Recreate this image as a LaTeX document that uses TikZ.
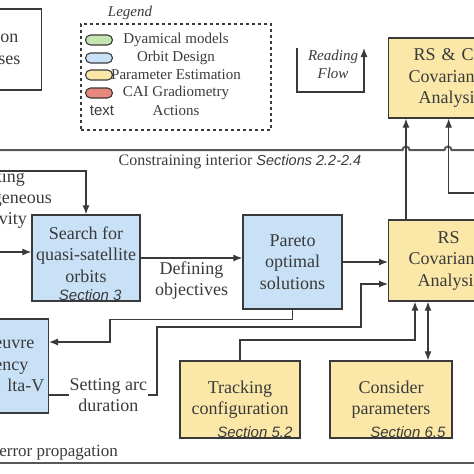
\documentclass[tikz,border=0pt]{standalone}
\usepackage{fontspec}
\setmainfont{Liberation Serif}
\setsansfont{Liberation Sans}
\usetikzlibrary{arrows.meta,positioning}
\definecolor{ink}{HTML}{3A3A3A}
\definecolor{bluebox}{HTML}{C8E1F6}
\definecolor{yellowbox}{HTML}{FBE8A8}
\definecolor{greenbox}{HTML}{C5E5B1}
\definecolor{redbox}{HTML}{E8877B}

\begin{document}
\begin{tikzpicture}[x=1pt,y=-1pt,>={Latex[length=9pt,width=7pt]},
  box/.style={draw=ink,line width=1.3pt,align=center,inner sep=0pt,text=ink,
    font=\fontsize{18}{21.5}\selectfont},
  txt/.style={text=ink,inner sep=0pt,font=\fontsize{18}{21}\selectfont},
  flow/.style={->,draw=ink,line width=1.2pt},
  sect/.style={text=ink,inner sep=1pt,font=\sffamily\itshape\fontsize{15}{15}\selectfont},
  pill/.style={draw=ink,line width=1.1pt,rounded corners=5pt,minimum width=27pt,minimum height=10pt},
  key/.style={text=ink,inner sep=0pt,font=\fontsize{15}{17.5}\selectfont},
  sep/.style={draw=ink!85,line width=2pt}]
  \useasboundingbox (0,0) rectangle (474,474);
  \clip (0,0) rectangle (474,474);

  % boxes cut by the frame
  \node[box,anchor=east,minimum height=81pt,text width=80pt,align=right,inner xsep=21pt] (phases) at (42,49.5) {on\kern2pt\\ses};
  \node[box,fill=bluebox,anchor=east,minimum height=94pt,text width=100pt,align=right,inner xsep=4pt] (mano) at (49,366) {euvre\kern10pt\\ency\kern16pt\\lta-V};
  \node[box,fill=yellowbox,anchor=west,minimum height=80pt,text width=80pt,align=left,inner xsep=20pt] (rsc) at (388,78) {\hspace*{5pt}RS \& C\\Covarian\\\hspace*{10pt}Analysi};
  \node[box,fill=yellowbox,anchor=west,minimum height=81pt,text width=80pt,align=left,inner xsep=20pt] (rs) at (388,260.5) {\hspace*{29pt}RS\\Covarian\\\hspace*{9pt}Analysi};

  % boxes inside the frame
  \node[box,fill=bluebox,minimum width=108pt,minimum height=86pt] (search) at (86,258) {Search for\\quasi-satellite\\orbits\\[-14pt]\mbox{}};
  \node[box,fill=bluebox,minimum width=99pt,minimum height=94pt] (pareto) at (292.5,262) {Pareto\\optimal\\solutions};
  \node[box,fill=yellowbox,minimum width=120pt,minimum height=77pt] (track) at (240,399.5) {Tracking\\configuration};
  \node[box,fill=yellowbox,minimum width=122pt,minimum height=77pt] (consider) at (391,399.5) {Consider\\parameters};
  \node[sect,above left=0pt and 18pt of search.south east] (sec3) {Section 3};
  \node[sect,above left=0pt and 7pt of track.south east] (sec52) {Section 5.2};
  \node[sect,above left=0pt and 6pt of consider.south east] (sec65) {Section 6.5};

  % legend
  \node[key,font=\itshape\fontsize{15}{15}\selectfont] (legendT) at (130,13) {Legend};
  \node[draw=ink,line width=1.1pt,dash pattern=on 3pt off 3pt,minimum width=190pt,minimum height=106pt] (legend) at (176,77) {};
  \node[pill,fill=greenbox] (kDyn) at (99,40) {};
  \node[pill,fill=bluebox] (kOrb) at (99,58) {};
  \node[pill,fill=yellowbox] (kPar) at (99,75) {};
  \node[pill,fill=redbox] (kCai) at (99,93) {};
  \node[key,font=\sffamily\fontsize{15}{15}\selectfont] (kTxt) at (102,111) {text};
  \node[key] (tDyn) at (176,40) {Dyamical models};
  \node[key] (tOrb) at (176,58) {Orbit Design};
  \node[key] (tPar) at (176,75) {Parameter Estimation};
  \node[key] (tCai) at (176,93) {CAI Gradiometry};
  \node[key] (tAct) at (176,111) {Actions};

  % reading flow
  \node[key,align=center,font=\itshape\fontsize{15}{18}\selectfont] (reading) at (333,64) {Reading\\Flow};
  \coordinate (rfA) at (297,48);
  \coordinate (rfB) at (364,48);
  \draw[flow] (rfA) -- ++(0,44) -| (rfB);

  % frame lines
  \draw[sep] (-2,150) -- (402.5,150) arc[start angle=180,end angle=360,radius=3.5]
    -- (444.5,150) arc[start angle=180,end angle=360,radius=3.5] -- (476,150);
  \draw[sep] (-2,463) -- (476,463);
  \node[txt,anchor=base,font=\fontsize{16}{16}\selectfont] (constr) at (240,165)
    {Constraining interior {\sffamily\itshape\fontsize{14.5}{14.5}\selectfont Sections 2.2-2.4}};
  \node[txt,anchor=base east,font=\fontsize{17}{17}\selectfont] (errprop) at (118,456) {error propagation};
  \node[txt,align=right,anchor=east] (gravTxt) at (52,199) {king\kern27pt\\geneous\\vity\kern25pt};

  % connectors
  \coordinate (inT) at (-2,171);
  \coordinate (inL) at (-2,252);
  \coordinate (inR) at (476,193);
  \draw[flow] (inT) -| (search.north);
  \draw[flow] (inL) -- (inL -| search.west);
  \draw[flow] (search.east) -- node[txt,below=3pt,align=center] (defobj) {Defining\\objectives} (search.east -| pareto.west);
  \draw[flow] (pareto.east) -- (pareto.east -| rs.west);
  \draw[flow] (pareto.south) -- ++(0,10) -| (110,342) -- (mano.east |- 110,342);
  \draw[flow] (mano.east |- 0,395) -- node[txt,fill=white,inner sep=1pt,pos=.55,align=center] (arcdur) {Setting arc\\duration} (157,395) |- (361,327) |- (rs.west |- 0,284);
  \draw[flow] (track.north) |- (415,340) -- (rs.south -| 415,0);
  \draw[flow,<->] (consider.north -| 428,0) -- (rs.south -| 428,0);
  \draw[flow] (rs.north -| 406,0) -- (rsc.south -| 406,0);
  \draw[flow] (inR) -| (rsc.south);
\end{tikzpicture}
\end{document}
